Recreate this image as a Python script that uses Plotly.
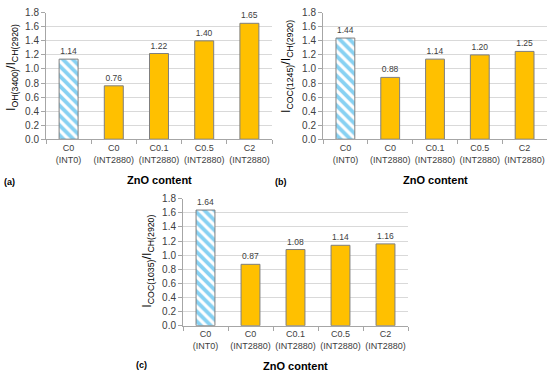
import plotly.graph_objects as go

categories = ["C0<br>(INT0)", "C0<br>(INT2880)", "C0.1<br>(INT2880)", "C0.5<br>(INT2880)", "C2<br>(INT2880)"]
vals_a = [1.14, 0.76, 1.22, 1.40, 1.65]
vals_b = [1.44, 0.88, 1.14, 1.20, 1.25]
vals_c = [1.64, 0.87, 1.08, 1.14, 1.16]
ytitles = ["I<sub>OH(3400)</sub>/I<sub>CH(2920)</sub>",
           "I<sub>COC(1245)</sub>/I<sub>CH(2920)</sub>",
           "I<sub>COC(1035)</sub>/I<sub>CH(2920)</sub>"]
panel_labels = ["(a)", "(b)", "(c)"]
xtitle = "ZnO content"
yticks = [0.0, 0.2, 0.4, 0.6, 0.8, 1.0, 1.2, 1.4, 1.6, 1.8]

W, H = 550, 383
FONT = "Liberation Sans, Arial, sans-serif"

def px(x):
    return x / W

def py(y):
    return 1 - y / H

# panel geometry in pixels: (x0, x1, ytop, ybottom)
panels = [(46, 272, 7, 137.5), (323, 547, 7, 137.5), (183, 408, 199, 330)]
datasets = [vals_a, vals_b, vals_c]

fig = go.Figure()
annotations = []
title_pos = [(12, 64), (287, 63), (148, 264)]
label_pos = [(9, 182), (281, 182), (141, 371)]

for i, (vals, (x0, x1, yt, yb)) in enumerate(zip(datasets, panels)):
    xa = "x" if i == 0 else f"x{i+1}"
    ya = "y" if i == 0 else f"y{i+1}"
    # hatched first bar
    fig.add_trace(go.Bar(
        x=categories[:1], y=vals[:1], xaxis=xa, yaxis=ya, width=0.42,
        marker=dict(color="white", line=dict(color="#7F7F7F", width=1),
                    pattern=dict(shape="\\", fgcolor="#0FA3E6", bgcolor="white", size=7, solidity=0.55)),
        text=[f"{v:.2f}" for v in vals[:1]], textposition="outside", cliponaxis=False,
        textfont=dict(size=8.5, color="#404040", family=FONT), showlegend=False))
    fig.add_trace(go.Bar(
        x=categories[1:], y=vals[1:], xaxis=xa, yaxis=ya, width=0.42,
        marker=dict(color="#FFC000", line=dict(color="#7F7F7F", width=1)),
        text=[f"{v:.2f}" for v in vals[1:]], textposition="outside", cliponaxis=False,
        textfont=dict(size=8.5, color="#404040", family=FONT), showlegend=False))
    xkey = "xaxis" if i == 0 else f"xaxis{i+1}"
    ykey = "yaxis" if i == 0 else f"yaxis{i+1}"
    fig.update_layout(**{
        xkey: dict(domain=[px(x0), px(x1)], anchor=ya, type="category",
                   categoryorder="array", categoryarray=categories,
                   showline=True, linecolor="#A6A6A6", linewidth=1,
                   ticks="outside", tickson="boundaries", ticklen=4, tickcolor="#A6A6A6",
                   tickangle=0,
                   tickfont=dict(size=9, color="#404040", family=FONT), showgrid=False),
        ykey: dict(domain=[py(yb), py(yt)], anchor=xa, range=[0, 1.8],
                   tickvals=yticks, ticktext=[f"{t:.1f}" for t in yticks],
                   showline=True, linecolor="#A6A6A6", linewidth=1,
                   ticks="outside", ticklen=4, tickcolor="#A6A6A6",
                   tickfont=dict(size=10, color="#404040", family=FONT),
                   showgrid=True, gridcolor="#D9D9D9", gridwidth=1, zeroline=False),
    })
    tx, ty = title_pos[i]
    annotations.append(dict(text=ytitles[i], x=px(tx), y=py(ty), xref="paper", yref="paper",
                            showarrow=False, textangle=-90, xanchor="center", yanchor="middle",
                            font=dict(size=12.5, color="#000000", family=FONT)))
    annotations.append(dict(text=f"<b>{xtitle}</b>", x=px((x0 + x1) / 2), y=py(yb + 42),
                            xref="paper", yref="paper", showarrow=False,
                            xanchor="center", yanchor="middle",
                            font=dict(size=11, color="#000000", family=FONT)))
    lx, ly = label_pos[i]
    annotations.append(dict(text=f"<b>{panel_labels[i]}</b>", x=px(lx), y=py(ly),
                            xref="paper", yref="paper", showarrow=False,
                            xanchor="center", yanchor="middle",
                            font=dict(size=9, color="#000000", family=FONT)))

fig.update_layout(width=W, height=H, margin=dict(l=0, r=0, t=0, b=0),
                  paper_bgcolor="white", plot_bgcolor="white",
                  annotations=annotations, bargap=0.58, showlegend=False)

fig.write_html("out.html", config={"displayModeBar": False},
               post_script="document.body.style.margin='0';document.body.style.overflow='hidden';")
